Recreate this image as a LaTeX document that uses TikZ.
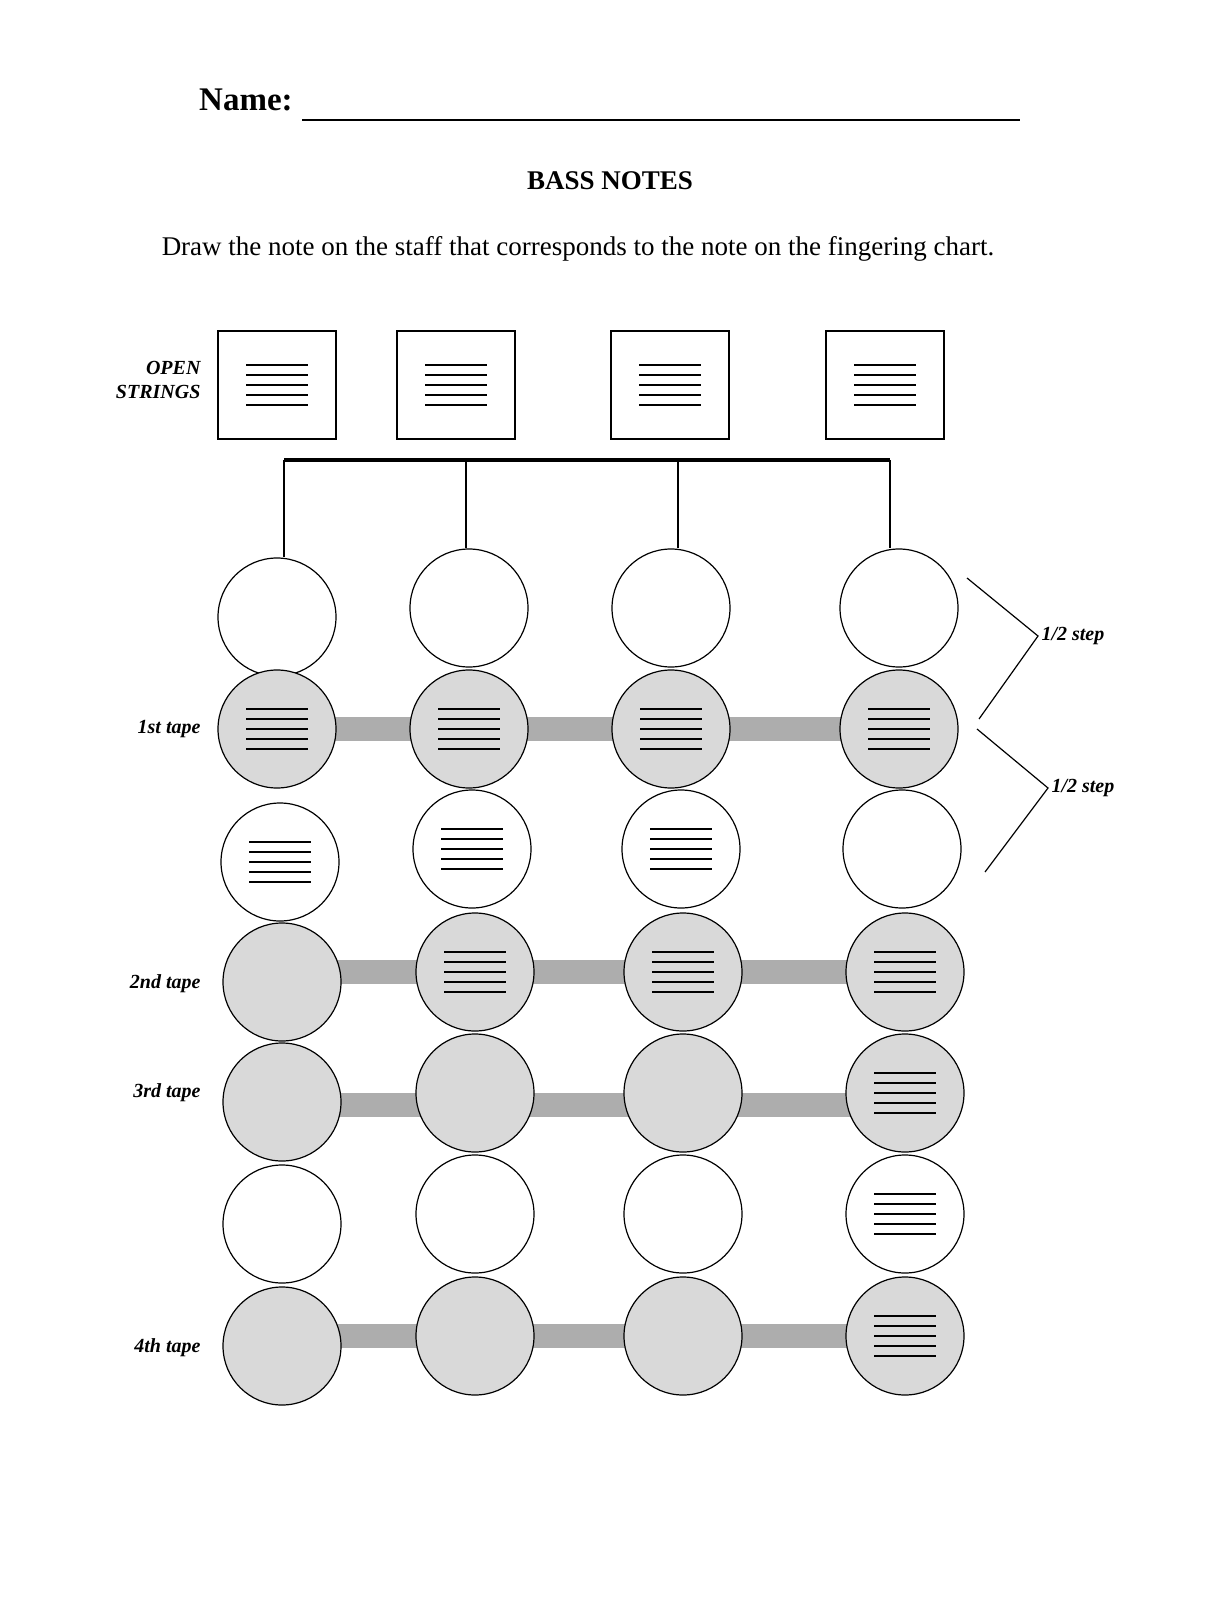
\documentclass[tikz,border=0pt]{standalone}
\usepackage{fontspec}
\setmainfont{Liberation Serif}
\begin{document}
\begin{tikzpicture}[x=1pt,y=-1pt,
  hole/.style={circle,draw,line width=1.2pt,minimum size=118pt,inner sep=0pt},
  tapehole/.style={hole,fill=black!15},
  bar/.style={line width=24pt,draw=black!32},
  box/.style={draw,line width=1.8pt,minimum width=118pt,minimum height=108pt},
  lbl/.style={font=\bfseries\itshape\fontsize{20}{24}\selectfont,anchor=east,align=right},
  staff/.pic={\foreach \k in {0,...,4}\draw[line width=1.2pt] (-31,-20+10*\k)--(31,-20+10*\k);}]
\useasboundingbox (0,0) rectangle (1220,1600);
\node[font=\bfseries\fontsize{33}{36}\selectfont,anchor=west,inner sep=0pt] (name) at (199,100) {Name:};
\coordinate (u1) at (302,120); \coordinate (u2) at (1020,120);
\draw[line width=1.5pt] (u1)--(u2);
\node[font=\bfseries\fontsize{27}{30}\selectfont] (title) at (610,181) {BASS NOTES};
\node[font=\fontsize{27}{30}\selectfont] (instr) at (578,249) {Draw the note on the staff that corresponds to the note on the fingering chart.};
\node[lbl] (open) at (204,380) {OPEN\\STRINGS};
\foreach \x [count=\i] in {277,456,670,885}{
  \node[box] (b\i) at (\x,385) {};
  \pic at (\x,385) {staff};
}
\foreach \r/\ya/\yb/\xa/\xb/\xc/\xd in {
 1/617/608/277/469/671/899,
 2/729/729/277/469/671/899,
 3/862/849/280/472/681/902,
 4/982/972/282/475/683/905,
 5/1102/1093/282/475/683/905,
 6/1224/1214/282/475/683/905,
 7/1346/1336/282/475/683/905}{
  \coordinate (c\r-1) at (\xa,\ya);
  \coordinate (c\r-2) at (\xb,\yb);
  \coordinate (c\r-3) at (\xc,\yb);
  \coordinate (c\r-4) at (\xd,\yb);
}
\foreach \r/\y in {2/729,4/972,5/1105,7/1336}{
  \draw[bar] (c\r-1 |- 0,\y) -- (c\r-4 |- 0,\y);
}
\foreach \r in {1,3,6}{\foreach \c in {1,...,4}{\node[hole] (h\r-\c) at (c\r-\c) {};}}
\foreach \r in {2,4,5,7}{\foreach \c in {1,...,4}{\node[tapehole] (h\r-\c) at (c\r-\c) {};}}
\foreach \n in {h2-1,h2-2,h2-3,h2-4,h3-1,h3-2,h3-3,h4-2,h4-3,h4-4,h5-4,h6-4,h7-4}{\pic at (\n) {staff};}
\coordinate (t1) at (284,460); \coordinate (t4) at (890,460);
\draw[line width=3.5pt] (t1)--(t4);
\draw[line width=1.2pt] (t1)--(h1-1.north -| t1);
\draw[line width=1.2pt] (466,460)--(h1-2.north -| 466,0);
\draw[line width=1.2pt] (678,460)--(h1-3.north -| 678,0);
\draw[line width=1.2pt] (t4)--(h1-4.north -| t4);
\node[lbl] (l1) at (204,729) {1st tape};
\node[lbl] (l2) at (204,984) {2nd tape};
\node[lbl] (l3) at (204,1093) {3rd tape};
\node[lbl] (l4) at (204,1348) {4th tape};
\coordinate (s1a) at (967,578); \coordinate (s1b) at (1038,636); \coordinate (s1c) at (979,719);
\coordinate (s2a) at (977,729); \coordinate (s2b) at (1048,788); \coordinate (s2c) at (985,872);
\draw[line width=1.2pt] (s1a)--(s1b)--(s1c);
\draw[line width=1.2pt] (s2a)--(s2b)--(s2c);
\node[lbl,anchor=west] (hs1) at (s1b) {1/2 step};
\node[lbl,anchor=west] (hs2) at (s2b) {1/2 step};
\end{tikzpicture}
\end{document}
